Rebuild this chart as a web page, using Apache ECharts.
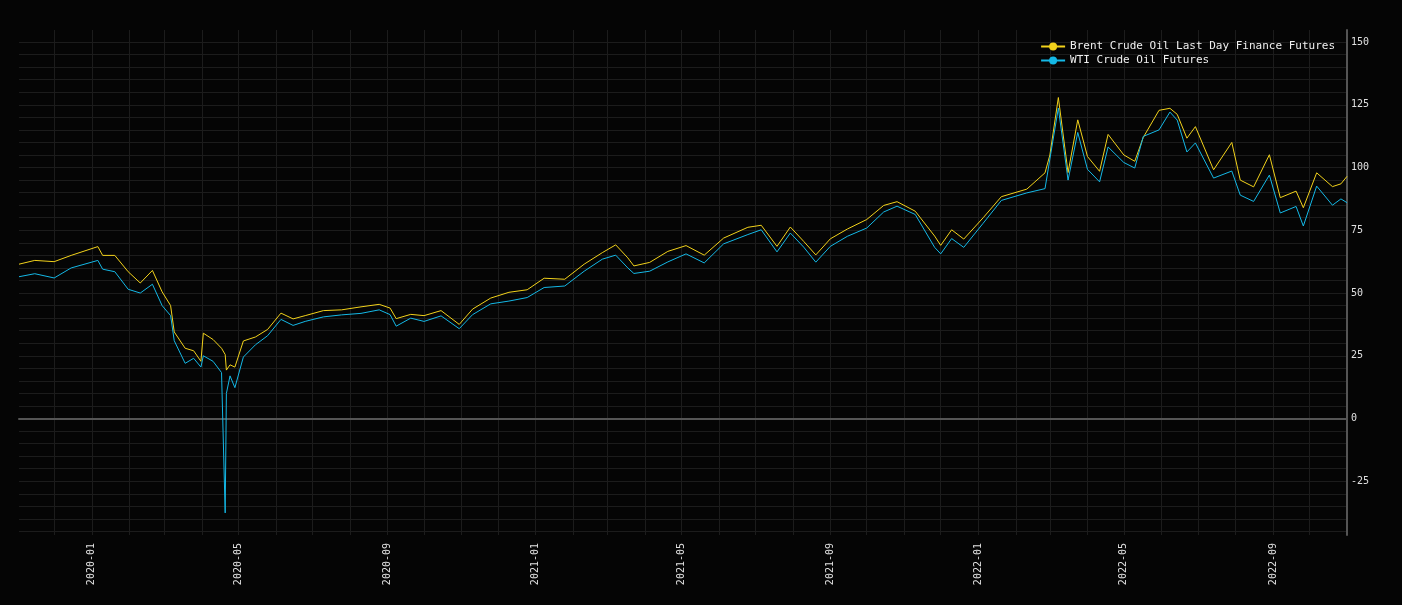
<!DOCTYPE html>
<html>
<head>
<meta charset="utf-8">
<script src="https://cdn.jsdelivr.net/npm/echarts@6/dist/echarts.min.js"></script>
<style>
  html, body { margin: 0; background: #050505; }
  #chart { width: 1402px; height: 605px; }
</style>
</head>
<body>
<div id="chart"></div>
<script>
// dates and values (roughly weekly, denser around events)
const dates = [
  '2019-11-02','2019-11-15','2019-12-01','2019-12-15','2020-01-06','2020-01-10','2020-01-20','2020-01-31',
  '2020-02-10','2020-02-20','2020-02-28','2020-03-06','2020-03-09','2020-03-18','2020-03-25','2020-03-31',
  '2020-04-02','2020-04-10','2020-04-17','2020-04-20','2020-04-21','2020-04-24','2020-04-28','2020-05-05',
  '2020-05-15','2020-05-25','2020-06-05','2020-06-15','2020-06-25','2020-07-10','2020-07-25','2020-08-10',
  '2020-08-25','2020-09-03','2020-09-08','2020-09-20','2020-10-01','2020-10-15','2020-10-30','2020-11-10',
  '2020-11-25','2020-12-10','2020-12-25','2021-01-08','2021-01-25','2021-02-10','2021-02-25','2021-03-08',
  '2021-03-18','2021-03-23','2021-04-05','2021-04-20','2021-05-05','2021-05-20','2021-06-05','2021-06-25',
  '2021-07-06','2021-07-19','2021-07-30','2021-08-10','2021-08-20','2021-09-01','2021-09-15','2021-10-01',
  '2021-10-15','2021-10-26','2021-11-10','2021-11-26','2021-12-01','2021-12-10','2021-12-20','2022-01-05',
  '2022-01-20','2022-02-10','2022-02-25','2022-03-01','2022-03-08','2022-03-16','2022-03-24','2022-04-01',
  '2022-04-11','2022-04-18','2022-05-01','2022-05-10','2022-05-17','2022-05-30','2022-06-08','2022-06-14',
  '2022-06-22','2022-06-29','2022-07-14','2022-07-29','2022-08-05','2022-08-16','2022-08-29','2022-09-07',
  '2022-09-20','2022-09-26','2022-10-07','2022-10-20','2022-10-27','2022-11-01'
];
const brent = [
  61.5,63,62.5,65,68.5,65,65,58.5,
  54,59,50.5,45,34.5,28,27,22.8,
  34,31.5,28,25.5,19.3,21.4,20.5,30.9,
  32.5,35.5,42,39.7,41,43,43.3,44.5,
  45.5,44,39.8,41.5,41,43,37.5,43.6,
  48,50.3,51.3,55.9,55.5,61.5,66.1,69.2,
  64,60.8,62.2,66.6,68.9,65.1,71.9,76.2,
  77,68.6,76.3,70.6,65.2,71.6,75.5,79.3,
  84.9,86.4,82.6,72.7,69,75.2,71.5,80,
  88.4,91.4,97.9,105,127.9,98,119,104.4,
  98.5,113.2,105,102.5,112,122.8,123.6,121.2,
  111.7,116.3,99.1,110,95,92.3,105.1,88,
  90.6,84,97.9,92.4,93.5,96.5
];
const wti = [
  56.5,57.7,56,60,63,59.5,58.5,51.5,
  50,53.5,45,41,31,22,24,20.5,
  25,22.8,18.3,-37.6,10,17,12.3,24.5,
  29.4,33,39.5,37.1,38.7,40.5,41.3,41.9,
  43.3,41.4,36.8,40,38.7,40.9,35.8,41.4,
  45.7,46.8,48.2,52.2,52.8,58.7,63.5,65.1,
  60,57.8,58.7,62.4,65.6,62,69.6,73.3,
  75.2,66.4,73.9,68.3,62.3,68.6,72.6,75.9,
  82.3,84.6,81.3,68.2,65.6,71.7,68.2,77.8,
  86.9,89.9,91.6,103.4,123.7,95,114,99.3,
  94.3,108.2,102,99.8,112.4,115,122.1,118.9,
  106.2,109.8,95.8,98.6,89,86.5,97,81.9,
  84.5,76.7,92.6,85,87.5,86
];
const yLabels = [-25, 0, 25, 50, 75, 100, 125, 150];
const xLabels = ['2020-01-01','2020-05-01','2020-09-01','2021-01-01','2021-05-01','2021-09-01','2022-01-01','2022-05-01','2022-09-01'];

const yMinor = [];
for (let v = -45; v <= 150; v += 5) yMinor.push(v);
const xMonths = [];
for (let y = 2019; y <= 2022; y++) {
  for (let m = 1; m <= 12; m++) {
    const t = Date.UTC(y, m - 1, 1);
    if (t > Date.UTC(2019, 10, 2) && t < Date.UTC(2022, 10, 1)) xMonths.push(t);
  }
}

const font = 'DejaVu Sans Mono';
const fmtMonth = v => {
  const d = new Date(v);
  return d.getUTCFullYear() + '-' + String(d.getUTCMonth() + 1).padStart(2, '0');
};
const chart = echarts.init(document.getElementById('chart'));
chart.setOption({
  backgroundColor: '#050505',
  animation: false,
  grid: { left: 19, right: 55, top: 30, bottom: 70 },
  legend: {
    orient: 'vertical', right: 62, top: 36, itemGap: 3, itemWidth: 24, itemHeight: 10,
    textStyle: { color: '#f0f0f0', fontFamily: font, fontSize: 11 },
    data: ['Brent Crude Oil Last Day Finance Futures', 'WTI Crude Oil Futures']
  },
  xAxis: {
    type: 'value',
    min: Date.UTC(2019, 10, 2), max: Date.UTC(2022, 10, 1),
    axisLine: { lineStyle: { color: '#555', width: 2 } },
    axisTick: { show: false, customValues: xMonths },
    axisLabel: {
      customValues: xLabels.map(d => Date.parse(d)),
      rotate: 90, color: '#e0e0e0', fontFamily: font, fontSize: 10, margin: 8,
      formatter: fmtMonth
    },
    splitLine: { show: true, lineStyle: { color: '#1c1c1c', width: 1 } }
  },
  yAxis: {
    type: 'value', position: 'right',
    min: -46.4, max: 154.8,
    axisLine: { show: true, lineStyle: { color: '#555', width: 2 } },
    axisTick: { show: false, customValues: yMinor },
    axisLabel: { customValues: yLabels, color: '#e0e0e0', fontFamily: font, fontSize: 10, margin: 4 },
    splitLine: { show: true, lineStyle: { color: '#1c1c1c', width: 1 } }
  },
  series: [
    {
      name: 'Brent Crude Oil Last Day Finance Futures', type: 'line', symbol: 'none',
      data: dates.map((d, i) => [Date.parse(d), brent[i]]),
      lineStyle: { width: 1, color: '#f2d21b' }, itemStyle: { color: '#f2d21b' }
    },
    {
      name: 'WTI Crude Oil Futures', type: 'line', symbol: 'none',
      data: dates.map((d, i) => [Date.parse(d), wti[i]]),
      lineStyle: { width: 1, color: '#14b8e6' }, itemStyle: { color: '#14b8e6' }
    }
  ]
});
</script>
</body>
</html>
